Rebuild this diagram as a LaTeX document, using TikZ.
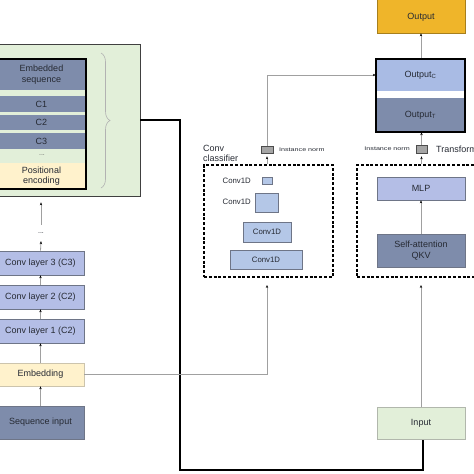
\documentclass[tikz,border=0pt]{standalone}
\usepackage{fontspec}
\setmainfont{Liberation Sans}
\usetikzlibrary{arrows.meta,decorations.pathreplacing}
\definecolor{dk}{HTML}{7E8CAB}
\definecolor{lav}{HTML}{B4BEE6}
\definecolor{lb}{HTML}{B4C7E7}
\definecolor{outc}{HTML}{A9BBE4}
\definecolor{yel}{HTML}{FFF2CC}
\definecolor{grn}{HTML}{E2EFD9}
\definecolor{gold}{HTML}{EFB52A}
\definecolor{sq}{HTML}{A5A5A5}
\definecolor{bord}{HTML}{6E7587}
\definecolor{ln}{HTML}{A0A0A0}
\definecolor{txt}{HTML}{262A33}
\begin{document}
\begin{tikzpicture}[x=1pt,y=-1pt,
  every node/.style={font=\fontsize{9}{10.5}\selectfont, text=txt, inner sep=0pt, align=center},
  box/.style={rectangle, draw=bord, line width=0.6pt},
  dkbox/.style={box, fill=dk},
  lavbox/.style={box, fill=lav},
  lbbox/.style={box, fill=lb, font=\fontsize{7.8}{9}\selectfont},
  yelbox/.style={box, fill=yel, draw=yel!60!gray},
  grnbox/.style={box, fill=grn, draw=grn!50!gray},
  frame/.style={rectangle, draw=black, line width=1.8pt},
  dbox/.style={rectangle, draw=black, line width=1.1pt, dash pattern=on 3pt off 1.8pt},
  smsq/.style={rectangle, draw=black!70, fill=sq, line width=0.6pt},
  tinytxt/.style={font=\fontsize{5.3}{6}\selectfont},
  arr/.style={draw=ln, line width=0.8pt, -{Stealth[length=3pt,width=2.4pt,color=black]}},
  thickln/.style={draw=black, line width=2.2pt},
  brc/.style={draw=black!30, line width=0.6pt, decorate, decoration={brace, amplitude=9pt}}
]
\useasboundingbox (0,0) rectangle (474,474);

% ---- left group
\node[grnbox, draw=black!75, minimum width=145pt, minimum height=152pt] (grp) at (67.5,120) {};
\node[dkbox, draw=none, minimum width=89pt, minimum height=31pt] (es) at (41.5,74.5) {Embedded\\sequence};
\node[dkbox, draw=none, minimum width=89pt, minimum height=16pt] (c1) at (41.5,104) {C1};
\node[dkbox, draw=none, minimum width=89pt, minimum height=15pt] (c2) at (41.5,122.5) {C2};
\node[dkbox, draw=none, minimum width=89pt, minimum height=16pt] (c3) at (41.5,141) {C3};
\node[font=\fontsize{7}{8}\selectfont, text=black!60] (idots) at (42,155) {...};
\node[yelbox, draw=none, minimum width=89pt, minimum height=26pt] (pe) at (41.5,176) {Positional\\encoding};
\node[frame, minimum width=89pt, minimum height=130pt] (fr) at (41.5,124) {};
\draw[brc] (101,53) -- (101,188);

% ---- left column
\node[minimum height=16pt, font=\fontsize{7}{8}\selectfont] (ldots) at (41,233) {...};
\node[lavbox, minimum width=87pt, minimum height=24pt] (cl3) at (40.5,263) {Conv layer 3 (C3)};
\node[lavbox, minimum width=87pt, minimum height=24pt] (cl2) at (40.5,297) {Conv layer 2 (C2)};
\node[lavbox, minimum width=87pt, minimum height=24pt] (cl1) at (40.5,331) {Conv layer 1 (C2)};
\node[yelbox, minimum width=87pt, minimum height=23pt] (emb) at (40.5,374.5) {Embedding};
\node[dkbox, minimum width=87pt, minimum height=33pt] (seq) at (40.5,422.5) {Sequence input};

\draw[arr] (seq.north) -- (emb.south);
\draw[arr] (emb.north) -- (cl1.south);
\draw[arr] (cl1.north) -- (cl2.south);
\draw[arr] (cl2.north) -- (cl3.south);
\draw[arr] (cl3.north) -- (ldots.south);
\draw[arr, shorten >=6pt] (ldots.north) -- (ldots.north |- grp.south);

% ---- thick connector
\coordinate (k1) at (180,470);
\draw[thickln] (grp.east) -| (k1) -| (423,439);

% ---- conv classifier
\node[dbox, minimum width=129pt, minimum height=112pt] (ccbox) at (268.5,221) {};
\node[anchor=south west, align=left] (cclab) at (203,162) {Conv\\classifier};
\node[smsq, minimum width=12pt, minimum height=7pt] (ccn) at (267,149.5) {};
\node[tinytxt, anchor=west] (ccnl) at (279,149.5) {\scalebox{1.35}[1]{Instance norm}};
\node[lbbox, minimum width=10pt, minimum height=7pt] (cd1) at (267,180.5) {};
\node[anchor=east, font=\fontsize{7.8}{9}\selectfont] (cd1l) at (251,180.5) {Conv1D};
\node[lbbox, minimum width=23pt, minimum height=19pt] (cd2) at (266.5,202.5) {};
\node[anchor=east, font=\fontsize{7.8}{9}\selectfont] (cd2l) at (251,202) {Conv1D};
\node[lbbox, minimum width=48pt, minimum height=20pt] (cd3) at (267,232) {Conv1D};
\node[lbbox, minimum width=72pt, minimum height=19pt] (cd4) at (266,259.5) {Conv1D};
\coordinate (ccin) at (267,285);
\draw[arr] (emb.east) -| (ccin);
\draw[arr, shorten >=3pt] (ccn |- ccbox.north) -- (ccn.south);

% ---- output group
\node[box, fill=gold, draw=gold!70!black, minimum width=88pt, minimum height=36pt] (out) at (421,15) {};
\node (outl) at (421,17) {Output};
\node[rectangle, fill=outc, minimum width=89pt, minimum height=32pt] (oc) at (420.5,75) {Output\textsubscript{C}};
\node[rectangle, fill=dk, minimum width=89pt, minimum height=34pt] (ot) at (420.5,115) {Output\textsubscript{T}};
\node[frame, minimum width=89pt, minimum height=73pt] (og) at (420.5,95.5) {};
\draw[arr] (og.north -| out.south) -- (out.south);
\draw[arr] (ccn.north) |- (oc.west);

% ---- transformer
\node[dbox, minimum width=125pt, minimum height=112pt] (trbox) at (419.5,221) {};
\node[smsq, minimum width=11pt, minimum height=8pt] (trn) at (421.5,149) {};
\node[tinytxt, anchor=east] (trnl) at (410,149) {\scalebox{1.35}[1]{Instance norm}};
\node[anchor=west] (trlab) at (436,149) {Transformer};
\node[lavbox, minimum width=88pt, minimum height=23pt] (mlp) at (421,188.5) {MLP};
\node[dkbox, minimum width=88pt, minimum height=33pt] (sa) at (421,250.5) {Self-attention\\QKV};
\draw[arr] (sa.north) -- (mlp.south);
\draw[arr, shorten >=3pt] (trn |- trbox.north) -- (trn.south);
\draw[arr] (trn.north) -- (trn.north |- ot.south);

% ---- input
\node[grnbox, minimum width=88pt, minimum height=32pt] (inp) at (421,423) {Input};
\coordinate (tin) at (421,285);
\draw[arr] (inp.north) -- (tin);
\end{tikzpicture}
\end{document}
